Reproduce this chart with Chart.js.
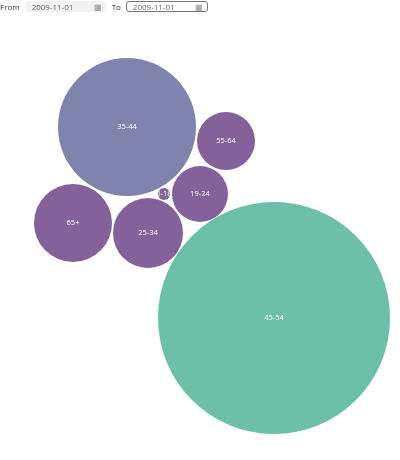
<!DOCTYPE html><html><head><meta charset="utf-8">
<script src="https://cdn.jsdelivr.net/npm/chart.js@4"></script>
<style>
html,body{overflow:hidden}
body{margin:0;width:400px;height:460px;font-family:"Open Sans",sans-serif;position:relative;background:#fff}
#bar{position:absolute;top:1px;left:0;font-size:8px;color:#333;display:flex;align-items:center;z-index:2}
.inp{height:11px;width:80px;box-sizing:border-box;font-size:8px;color:#666;padding-left:6px;display:flex;align-items:center;justify-content:space-between;padding-right:4px;border-radius:3px}
.ic{font-size:8px;color:#888}
#wrap{position:absolute;left:-116px;top:-116px;width:632px;height:692px}
</style></head><body>
<div id="bar"><span>From</span><div class="inp" style="background:#f2f2f4;margin-left:6px;width:80px">2009-11-01<span class="ic">▦</span></div><span style="margin-left:6px">To</span><div class="inp" style="border:1px solid #777;margin-left:5px;width:82px">2009-11-01<span class="ic">▦</span></div></div>
<div id="wrap"><canvas id="c"></canvas></div>
<script>
const labels=["35-44","55-64","19-24","0-18","65+","25-34","45-54"];
const xs=[127,226,200,164,73,148,274];
const ys=[127,141,194,194,223,233,318];
const rs=[69,29,28,6,39,35,116];
const colors=["#7e84ad","#84619a","#84619a","#84619a","#84619a","#84619a","#6cc0a7"];
const labelPlugin={id:'lbl',afterDatasetsDraw(ch){const ctx=ch.ctx;const m=ch.getDatasetMeta(0);ctx.save();ctx.font='7.5px "Open Sans"';ctx.fillStyle='#fff';ctx.textAlign='center';ctx.textBaseline='middle';
m.data.forEach((el,i)=>{const r=rs[i];if(r<10){ctx.save();ctx.beginPath();ctx.arc(el.x,el.y,r,0,Math.PI*2);ctx.clip();ctx.fillText(labels[i],el.x,el.y);ctx.restore();}else ctx.fillText(labels[i],el.x,el.y);});ctx.restore();}};
new Chart(document.getElementById('c'),{type:'bubble',
data:{datasets:[{data:labels.map((l,i)=>({x:xs[i],y:ys[i],r:rs[i]})),backgroundColor:colors,borderWidth:0,hoverRadius:0,clip:false}]},
options:{responsive:true,maintainAspectRatio:false,animation:false,layout:{padding:0},
plugins:{legend:{display:false},tooltip:{enabled:false}},
scales:{x:{type:'linear',min:0,max:400,display:false},y:{type:'linear',min:0,max:460,reverse:true,display:false}}},
plugins:[labelPlugin]});
</script></body></html>
